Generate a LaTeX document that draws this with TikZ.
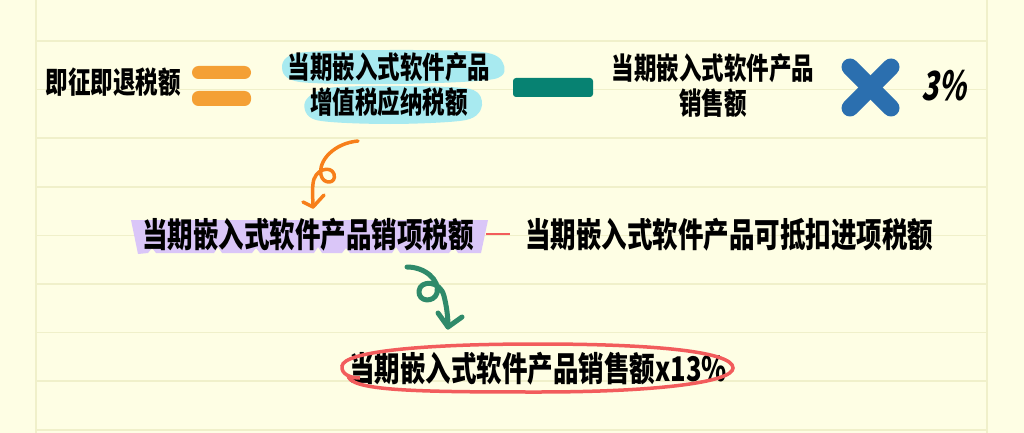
\documentclass[tikz,border=0pt]{standalone}
\usepackage{fontspec}
\newfontfamily\cjk[FakeStretch=0.75]{Noto Sans CJK SC}
\newfontfamily\cjkit[FakeStretch=0.7,FakeSlant=0.2]{Noto Sans CJK SC}
\definecolor{bg}{HTML}{FEFEE4}
\definecolor{rule}{HTML}{F0F0CA}
\definecolor{eqor}{HTML}{F4A035}
\definecolor{mint}{HTML}{A8EAF0}
\definecolor{teal}{HTML}{078272}
\definecolor{xblue}{HTML}{2B6FAF}
\definecolor{lav}{HTML}{DAC6F8}
\definecolor{redl}{HTML}{F25C5C}
\definecolor{arrowor}{HTML}{F77F1A}
\definecolor{arrowgr}{HTML}{2F8A6A}
\tikzset{
  txt/.style={inner sep=0pt, font=\cjk\bfseries\fontsize{30}{35}\selectfont, text=black, align=center},
  bigtxt/.style={inner sep=0pt, font=\cjk\bfseries\fontsize{34}{36}\selectfont, text=black},
  curl/.style={line width=3.5pt, line cap=round, line join=round},
}
\begin{document}
\begin{tikzpicture}[x=1pt,y=-1pt]
\useasboundingbox (0,0) rectangle (1024,433);
\fill[bg] (0,0) rectangle (1024,433);
% ruled lines
\foreach \yy in {41,89.6,138.2,186.8,235.4,284,332.6,381.2,429.8}
  \draw[rule, line width=1.6pt] (36,\yy) -- (987,\yy);
\draw[rule, line width=2pt] (35.5,0) -- (35.5,433);
\draw[rule, line width=2pt] (987,0) -- (987,433);

% cyan blobs
\fill[mint] plot[smooth cycle] coordinates {(282,68) (298,53) (390,50) (482,52) (503,63) (494,79) (400,84) (300,82)};
\fill[mint] plot[smooth cycle] coordinates {(305,102) (328,88) (400,86) (470,89) (482,105) (466,120) (390,124) (316,120)};

% purple brush band
\fill[lav] (131,220) -- (488,220) -- (481,253) -- (458,253) -- (454,247) -- (449,253)
  -- (400,253) -- (396,247) -- (392,253) -- (350,253) -- (346,248) -- (342,253)
  -- (322,253) -- (318,247) -- (314,253) -- (260,253) -- (256,248) -- (252,253)
  -- (222,253) -- (218,247) -- (214,253) -- (156,253) -- (152,248) -- (148,253)
  -- (138,254) -- cycle;

% equals bars
\fill[eqor, rounded corners=6.5pt] (192,66) rectangle (251,79);
\fill[eqor, rounded corners=6.5pt] (192,91) rectangle (251,106);
% minus bar
\fill[teal, rounded corners=3pt] (513,78) rectangle (593,97);
% times
\draw[xblue, line width=17pt, line cap=round] (850,67) -- (891,108);
\draw[xblue, line width=17pt, line cap=round] (891,67) -- (850,108);

% texts
\node[txt] (n1) at (113,82) {即征即退税额};
\node[txt] (n2) at (389,85) {当期嵌入式软件产品\\增值税应纳税额};
\node[txt] (n3) at (713,86) {当期嵌入式软件产品\\销售额};
\node[inner sep=0pt, font=\cjkit\bfseries\fontsize{40}{40}\selectfont] (n4) at (944,86) {3\%};
\node[bigtxt] (n5) at (308,235) {当期嵌入式软件产品销项税额};
\node[bigtxt] (n6) at (729,235) {当期嵌入式软件产品可抵扣进项税额};
\node[bigtxt] (n7) at (538,369) {当期嵌入式软件产品销售额x13\%};

% minus between row-2 items
\coordinate (m1) at (486,234);
\coordinate (m2) at (510,234);
\draw[redl, line width=2.5pt] (m1) -- (m2);

% red hand-drawn ellipse
\draw[redl, line width=3.5pt] (n7.center) ++(-190,6) .. controls +(0,16) and +(-120,0) .. (538,392)
  .. controls +(120,0) and +(0,14) .. (733,368)
  .. controls +(0,-16) and +(120,0) .. (538,344)
  .. controls +(-120,0) and +(2,-14) .. (342,366)
  .. controls +(-1,8) and +(-10,0) .. (360,378);

% orange curly arrow
\coordinate (oa) at (358,141);
\coordinate (ob) at (313,207);
\draw[arrowor, curl] (oa) .. controls (335,143) and (318,160) .. (321,175)
  .. controls (323,185) and (337,184) .. (334,174)
  .. controls (331,165) and (314,169) .. (313,184)
  .. controls (312,192) and (313,200) .. (ob);
\draw[arrowor, curl] (303,202) -- (ob) -- (324,195);

% green curly arrow
\coordinate (ga) at (407,267);
\coordinate (gb) at (448,327);
\draw[arrowgr, line width=5pt, line cap=round, line join=round] (ga)
  .. controls (425,267) and (440,280) .. (437,293)
  .. controls (434,303) and (418,302) .. (419,291)
  .. controls (420,280) and (440,280) .. (444,296)
  .. controls (447,308) and (448,318) .. (gb);
\draw[arrowgr, line width=5pt, line cap=round, line join=round] (438,313) -- (gb) -- (462,317);
\end{tikzpicture}
\end{document}
